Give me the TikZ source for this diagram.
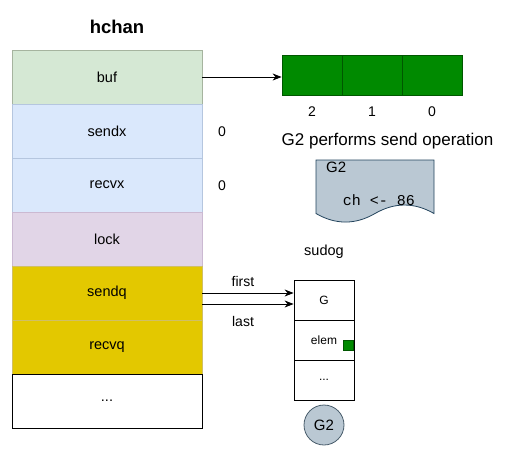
\documentclass[tikz,border=0pt]{standalone}
\usepackage{fontspec}
\setmainfont{Liberation Sans}
\setmonofont{Liberation Mono}
\usetikzlibrary{arrows.meta,calc}
\definecolor{bufF}{HTML}{D5E8D4}\definecolor{bufD}{HTML}{82B366}
\definecolor{blueF}{HTML}{DAE8FC}\definecolor{blueD}{HTML}{6C8EBF}
\definecolor{lockF}{HTML}{E1D5E7}\definecolor{lockD}{HTML}{9673A6}
\definecolor{yelF}{HTML}{E3C800}\definecolor{yelD}{HTML}{B09500}
\definecolor{grnF}{HTML}{008A00}\definecolor{grnD}{HTML}{005700}
\definecolor{docF}{HTML}{BAC8D3}\definecolor{docD}{HTML}{23445D}
\tikzset{
  field/.style={draw, line width=0.8pt, minimum width=190pt, minimum height=54pt, inner sep=0pt, font=\fontsize{14.5}{16}\selectfont},
  cell/.style={draw=grnD, fill=grnF, line width=0.8pt, minimum width=60pt, minimum height=40pt, inner sep=0pt},
  srow/.style={draw, line width=0.8pt, minimum width=60pt, minimum height=40pt, inner sep=0pt, font=\fontsize{12}{14}\selectfont},
  lbl/.style={inner sep=0pt, font=\fontsize{14}{16}\selectfont},
  arr/.style={-{Stealth[length=9pt,width=7pt]}, line width=0.8pt}
}
\begin{document}
\begin{tikzpicture}[x=1pt,y=-1pt]
\useasboundingbox (0,0) rectangle (523,456);
\node[inner sep=0pt, font=\fontsize{18.5}{20}\selectfont\bfseries] (title) at (117,27) {hchan};
\node[field, fill=bufF, draw=bufD!40!gray!70] (buf) at (107,77) {buf};
\node[field, fill=blueF, draw=blueD!50!white] (sendx) at (107,131) {sendx};
\node[field, fill=blueF, draw=blueD!50!white] (recvx) at (107,185) {recvx};
\node[field, fill=lockF, draw=lockD!50!white] (lock) at (107,239) {lock};
\node[field, fill=yelF, draw=yelD!60!white] (sendq) at (107,293) {sendq};
\node[field, fill=yelF, draw=yelD!60!white] (recvq) at (107,347) {recvq};
\node[field, fill=white, draw=black] (dots) at (107,401) {...};
\node[lbl] (sx0) at (222,132) {0};
\node[lbl] (rx0) at (222,186) {0};
% buffer
\node[cell] (c2) at (312,75) {};
\node[cell] (c1) at (372,75) {};
\node[cell] (c0) at (432,75) {};
\node[lbl] (l2) at (312,112) {2};
\node[lbl] (l1) at (372,112) {1};
\node[lbl] (l0) at (432,112) {0};
\draw[arr] (buf.east) -- (c2.west |- buf.east);
\node[inner sep=0pt, font=\fontsize{17}{19}\selectfont] (perf) at (387.5,141) {G2 performs send operation};
% document shape
\draw[fill=docF, draw=docD, line width=0.8pt] (316,160) -- (434,160) -- (434,213.5)
  .. controls (414.3,202.2) and (394.7,202.2) .. (375,213.5)
  .. controls (355.3,224.9) and (335.7,224.9) .. (316,213.5) -- cycle;
\node[inner sep=0pt, anchor=west, font=\fontsize{15}{17}\selectfont] (g2t) at (326,167) {G2};
\node[inner sep=0pt, font=\ttfamily\fontsize{15}{17}\selectfont] (code) at (379,200) {ch <- 86};
% sudog
\node[inner sep=0pt, font=\fontsize{14.5}{16}\selectfont] (sudog) at (324,252) {sudog};
\node[srow] (sg) at (324,300) {G};
\node[srow] (se) at (324,340) {elem};
\node[srow] (sd) at (324,380) {...};
\node[draw=grnD, fill=grnF, minimum width=10pt, minimum height=10pt, inner sep=0pt] (sq) at (348,345) {};
\node[circle, draw=docD!60!gray, fill=docF, line width=0.8pt, minimum size=40pt, inner sep=0pt, font=\fontsize{15}{17}\selectfont] (g2c) at (324,425) {G2};
\draw[arr] ($(sendq.east)+(0,0)$) -- ($(sg.west)+(0,-7)$);
\draw[arr] ($(sendq.east)+(0,11)$) -- ($(sg.west)+(0,4)$);
\node[inner sep=0pt, font=\fontsize{14}{16}\selectfont] (first) at (243,281) {first};
\node[inner sep=0pt, font=\fontsize{14}{16}\selectfont] (last) at (243,321) {last};
\end{tikzpicture}
\end{document}
